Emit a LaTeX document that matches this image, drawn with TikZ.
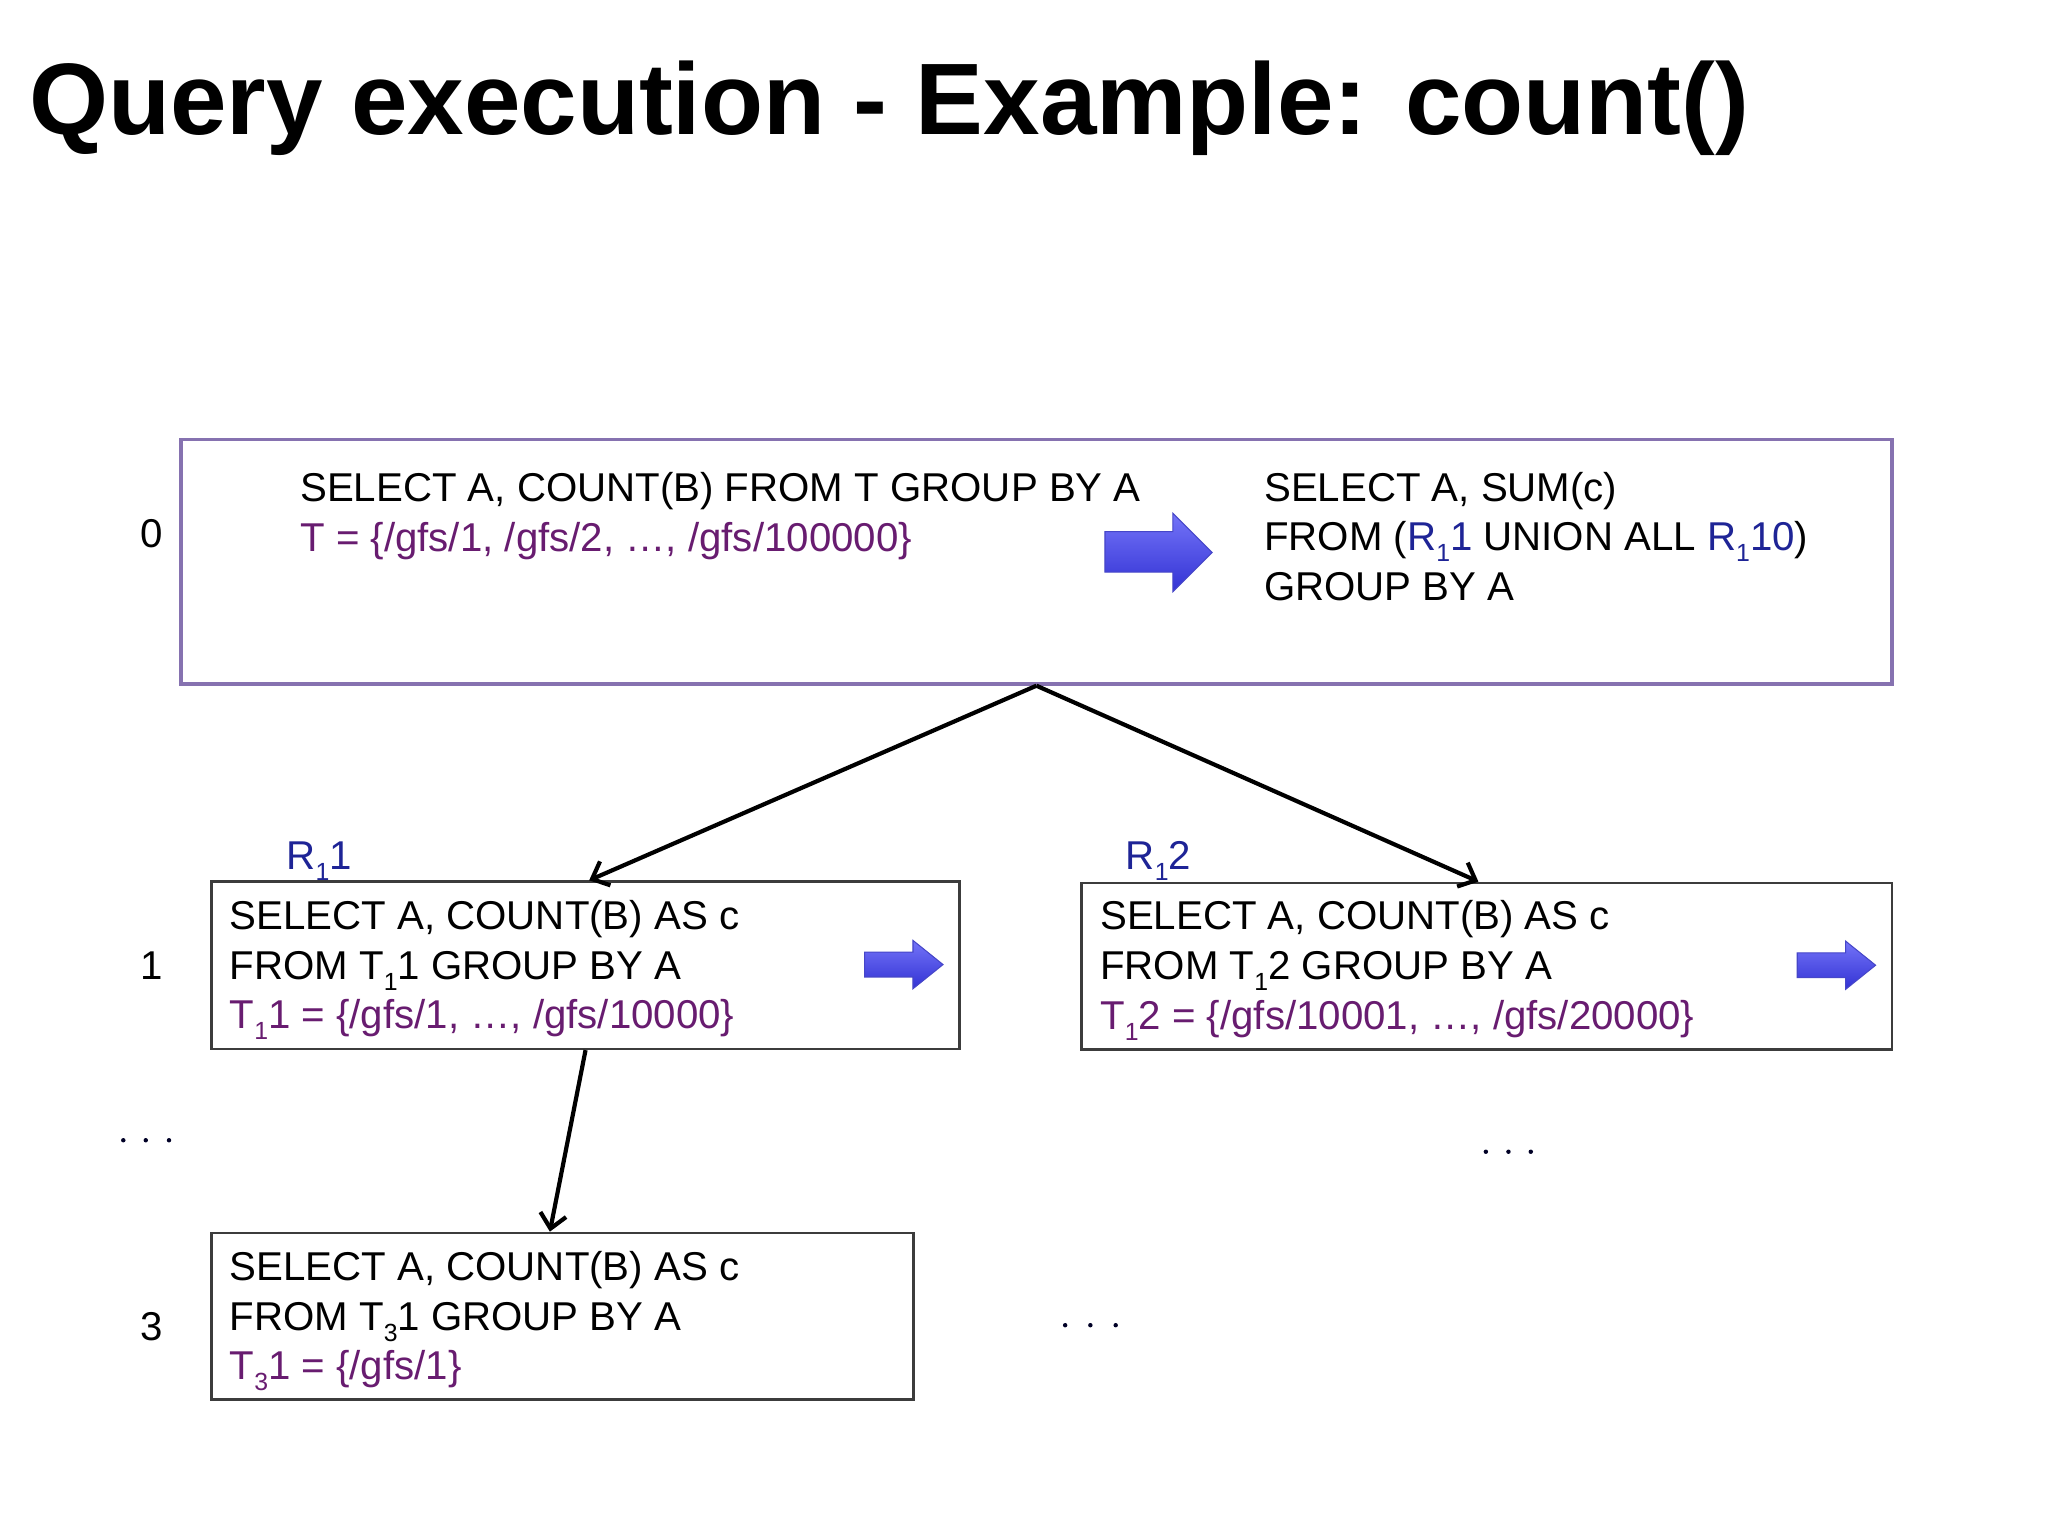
\documentclass[tikz,border=0pt]{standalone}
\usepackage{fontspec}
\setmainfont{Liberation Sans}
\usetikzlibrary{arrows.meta}
\definecolor{boxpurple}{RGB}{134,114,176}
\definecolor{txtpurple}{RGB}{104,28,112}
\definecolor{lblblue}{RGB}{30,36,150}
\definecolor{arrtop}{RGB}{116,116,248}
\definecolor{arrbot}{RGB}{50,50,212}
\definecolor{arredge}{RGB}{70,70,200}
\definecolor{boxgray}{RGB}{60,60,60}
\newcommand\lowsub[1]{\raisebox{-4.2pt}{\fontsize{9.5}{10}\selectfont #1}}
\begin{document}
\begin{tikzpicture}[x=0.5pt,y=-0.5pt,
  body/.style={anchor=base west,inner sep=0,font=\fontsize{15.4}{18}\selectfont},
  purp/.style={body,text=txtpurple},
  lbl/.style={body,text=lblblue},
  lvl/.style={anchor=base,inner sep=0,font=\fontsize{15.4}{18}\selectfont},
  topbox/.style={draw=boxpurple,line width=1.5pt,inner sep=0,anchor=north west,fill=white},
  qbox/.style={draw=boxgray,line width=1pt,inner sep=0,anchor=north west,fill=white},
  blockarrow/.style={top color=arrtop,bottom color=arrbot,draw=arredge,line width=0.4pt,line join=miter},
  conn/.style={draw=black,line width=1.6pt,-{Straight Barb[length=5.5pt,width=10pt,line width=1.6pt]}},
  dot/.style={fill=black!85!blue}
]
\useasboundingbox (0,0) rectangle (1568,1176);
\fill[white] (0,0) rectangle (1568,1176);

% title
\node[anchor=base west,inner sep=0,font=\bfseries\fontsize{38.9}{42}\selectfont] (title) at (22,103) {Query execution - Example: count()};

% boxes
\node[topbox,minimum width=655pt,minimum height=93.5pt] (top) at (137,335) {};
\node[qbox,minimum width=286.3pt,minimum height=64pt] (b1) at (161,674) {};
\node[qbox,minimum width=310.3pt,minimum height=63.8pt] (b2) at (827,675) {};
\node[qbox,minimum width=268.6pt,minimum height=63.8pt] (b3) at (161,943) {};

% level numbers
\node[lvl] (l0) at (116,419) {0};
\node[lvl] (l1) at (116,750) {1};
\node[lvl] (l3) at (116,1026) {3};

% top box texts
\node[body] (t1) at (229.5,384) {SELECT A, COUNT(B) FROM T GROUP BY A};
\node[purp] (t2) at (229.5,422) {T = \{/gfs/1, /gfs/2, …, /gfs/100000\}};
\node[body] (r1) at (967.5,384) {SELECT A, SUM(c)};
\node[body] (r2) at (967.5,421.7) {FROM (\textcolor{lblblue}{R\lowsub{1}1} UNION ALL \textcolor{lblblue}{R\lowsub{1}10})};
\node[body] (r3) at (967.5,459.4) {GROUP BY A};

% big arrow
\path[blockarrow] (846,407) -- (898,407) -- (898,393) -- (928,423) -- (898,453) -- (898,438) -- (846,438) -- cycle;

% labels
\node[lbl] (lab1) at (219,665.6) {R\lowsub{1}1};
\node[lbl] (lab2) at (861.6,665.6) {R\lowsub{1}2};

% box 1 texts
\node[body] (a1) at (175.5,711.5) {SELECT A, COUNT(B) AS c};
\node[body] (a2) at (175.5,749.8) {FROM T\lowsub{1}1 GROUP BY A};
\node[purp] (a3) at (175.5,787.3) {T\lowsub{1}1 = \{/gfs/1, …, /gfs/10000\}};
\path[blockarrow] (662,729) -- (699,729) -- (699,720) -- (722,738.5) -- (699,757) -- (699,748) -- (662,748) -- cycle;

% box 2 texts
\node[body] (c1) at (842,712) {SELECT A, COUNT(B) AS c};
\node[body] (c2) at (842,750.3) {FROM T\lowsub{1}2 GROUP BY A};
\node[purp] (c3) at (842,788) {T\lowsub{1}2 = \{/gfs/10001, …, /gfs/20000\}};
\path[blockarrow] (1376,729.5) -- (1413,729.5) -- (1413,720.5) -- (1436,739) -- (1413,757.5) -- (1413,748.5) -- (1376,748.5) -- cycle;

% box 3 texts
\node[body] (d1) at (175.5,980.5) {SELECT A, COUNT(B) AS c};
\node[body] (d2) at (175.5,1018.3) {FROM T\lowsub{3}1 GROUP BY A};
\node[purp] (d3) at (175.5,1056) {T\lowsub{3}1 = \{/gfs/1\}};

% connectors
\draw[conn] (top.south) -- ([xshift=1.4pt]b1.north);
\draw[conn] (top.south) -- ([xshift=-3.2pt]b2.north);
\draw[conn] (b1.south) -- ([xshift=-4.8pt]b3.north);

% dots
\foreach \x in {94.4,111.6,129.4} \fill[dot] (\x,873) circle[radius=0.85pt];
\foreach \x in {1137.6,1154.9,1172} \fill[dot] (\x,881.8) circle[radius=0.85pt];
\foreach \x in {815.5,834.8,854.2} \fill[dot] (\x,1014.6) circle[radius=0.85pt];
\end{tikzpicture}
\end{document}
